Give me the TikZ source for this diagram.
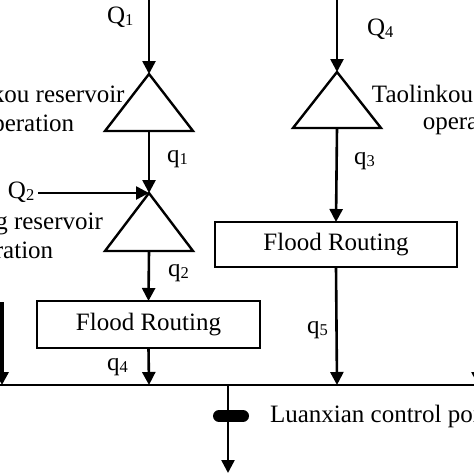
\documentclass[tikz,border=0pt]{standalone}
\usepackage{fontspec}
\setmainfont{Liberation Serif}
\usetikzlibrary{arrows.meta}
\newcommand\mysub[1]{\raisebox{-0.1em}{\fontsize{16.5}{16.5}\selectfont #1}}
\begin{document}
\begin{tikzpicture}[x=1pt,y=-1pt,
  every node/.style={inner sep=0pt,outer sep=0pt,font=\fontsize{25}{29}\selectfont},
  flow/.style={line width=2.6pt,-{Triangle[length=13pt,width=13pt]}},
  tri/.style={line width=2.4pt,line join=miter},
  boxnode/.style={draw,line width=2pt,rectangle},
  lbl/.style={anchor=base west}]
\useasboundingbox (0,0) rectangle (474,474);
\clip (0,0) rectangle (474,474);
\fill[white] (0,0) rectangle (474,474);

% triangles (reservoirs)
\coordinate (t1top) at (149,74);  \coordinate (t1bot) at (149,131);
\coordinate (t2top) at (149,193); \coordinate (t2bot) at (149,251);
\coordinate (t3top) at (337,72);  \coordinate (t3bot) at (337,128);
\draw[tri] (t1top) -- (193,131) -- (105,131) -- cycle;
\draw[tri] (t2top) -- (193,251) -- (105,251) -- cycle;
\draw[tri] (t3top) -- (381,128) -- (293,128) -- cycle;

% boxes
\node[boxnode,minimum width=223pt,minimum height=47pt] (fr1) at (148.5,324.5) {Flood Routing};
\node[boxnode,minimum width=242pt,minimum height=45pt] (fr2) at (336,244.5) {Flood Routing};

% inflows
\coordinate (q1start) at (149,0);
\coordinate (q2start) at (38,193);
\coordinate (q4start) at (337,0);
\coordinate (lstart) at (2,302);
\coordinate (rstart) at (478,302);

% main line
\coordinate (mainL) at (-5,385);
\coordinate (mainR) at (480,385);
\coordinate (m1) at (149,385);
\coordinate (m2) at (337,385);
\coordinate (m0) at (2,385);
\coordinate (m3) at (478,385);
\coordinate (cp) at (228,385);
\coordinate (cpend) at (228,473);
\draw[line width=1.6pt] (mainL) -- (mainR);

\draw[flow] (q1start) -- (t1top);
\draw[flow] (t1bot) -- (t2top);
\draw[flow] (q2start) -- (t2top);
\draw[flow] (t2bot) -- (fr1.north);
\draw[flow] (fr1.south) -- (m1);
\draw[flow] (q4start) -- (t3top);
\draw[flow] (t3bot) -- (fr2.north);
\draw[flow] (fr2.south) -- (m2);
\draw[flow,line width=3.4pt] (lstart) -- (m0);
\draw[flow] (rstart) -- (m3);
\draw[flow,line width=2.4pt] (cp) -- (cpend);

% control point bar
\coordinate (barL) at (219,416);
\coordinate (barR) at (243,416);
\draw[line width=12pt,line cap=round] (barL) -- (barR);

% labels
\node[lbl] (lQ1) at (107,23) {Q\mysub{1}};
\node[lbl] (lQ2) at (8,198) {Q\mysub{2}};
\node[lbl] (lQ4) at (367,35) {Q\mysub{4}};
\node[lbl] (lq1) at (167,162) {q\mysub{1}};
\node[lbl] (lq2) at (168,276) {q\mysub{2}};
\node[lbl] (lq3) at (354,164) {q\mysub{3}};
\node[lbl] (lq4) at (107,370) {q\mysub{4}};
\node[lbl] (lq5) at (307,333) {q\mysub{5}};

\node[anchor=base] (pj1) at (27,102) {Panjiakou reservoir};
\node[anchor=base] (pj2) at (27,131) {operation};
\node[anchor=base] (dh1) at (6,229) {Daheiting reservoir};
\node[anchor=base] (dh2) at (6,258) {operation};
\node[anchor=base] (tl1) at (470,102) {Taolinkou reservoir};
\node[anchor=base] (tl2) at (470,129) {operation};
\node[anchor=base west] (lx) at (270,422) {Luanxian control point};
\end{tikzpicture}
\end{document}
